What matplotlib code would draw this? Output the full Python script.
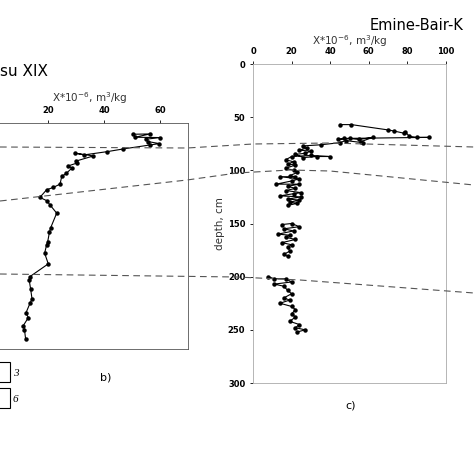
import matplotlib
matplotlib.use('Agg')
import matplotlib.pyplot as plt
from matplotlib.lines import Line2D
from matplotlib.patches import Rectangle

# panel b) susceptibility vs depth
b_x = [50.2, 56.4, 51.1, 60.0, 54.9, 55.8, 59.8, 56.6, 46.9, 41.0, 32.9, 29.5, 36.2, 29.9,
       30.2, 27.3, 28.5, 26.6, 24.9, 24.3, 21.9, 19.5, 17.1, 19.5, 20.7, 23.1, 20.9, 20.5,
       19.9, 19.5, 18.8, 20.1, 13.6, 13.3, 13.8, 14.3, 13.6, 12.1, 13.0, 11.2, 11.6, 12.0]
b_depth = [10.6, 10.3, 13.4, 13.7, 15.3, 17.5, 19.4, 20.6, 24.4, 27.0, 30.0, 28.3, 31.0, 35.9,
           37.8, 40.3, 42.5, 47.2, 50.3, 57.5, 60.6, 62.8, 70.0, 73.0, 77.0, 84.8, 98.9, 103.0,
           111.5, 114.6, 122.5, 132.5, 144.4, 148.0, 156.2, 165.6, 169.4, 178.8, 183.0, 190.5,
           194.5, 203.0]

# panel c) three depth segments
c_segments = [
    ([45, 51, 70, 73, 78, 79, 81, 85, 91, 47, 44, 50, 55, 62, 56, 57, 48, 45, 35, 26, 28, 24,
      30, 27, 22, 26, 33, 40, 30, 20, 17, 21, 18, 22, 17, 21, 23, 19, 22, 14, 24, 20, 12, 24,
      18, 22, 17, 25, 21, 14, 25, 18, 24, 19, 23, 18],
     [57, 57, 62, 63, 65, 64, 68, 69, 69, 70, 71, 70, 71, 69, 73, 74, 72, 74, 76, 77, 79, 81,
      82, 84, 85, 88, 87, 87, 86, 87, 90, 92, 94, 95, 98, 100, 102, 105, 106, 106, 108, 110,
      113, 113, 115, 117, 119, 121, 122, 124, 125, 127, 128, 130, 131, 133]),
    ([15, 20, 24, 16, 21, 13, 19, 17, 22, 15, 20, 18, 19, 16, 18],
     [151, 150, 153, 155, 157, 160, 161, 163, 165, 168, 170, 172, 176, 179, 181]),
    ([8, 11, 17, 20, 11, 16, 18, 20, 16, 19, 14, 20, 22, 20, 22, 19, 24, 22, 27, 23],
     [200, 202, 202, 205, 207, 209, 213, 216, 220, 222, 225, 228, 231, 235, 238, 242, 245,
      248, 250, 252]),
]

# boundary lines across the figure (pixel x, pixel y from top)
bounds = [
    ([0, 187, 253, 330, 474], [147, 148, 144, 143, 147]),
    ([0, 187, 237, 290, 330, 474], [201, 180, 173, 170, 171, 185]),
    ([0, 237, 300, 474], [274, 277, 280, 293]),
]

W = 474
fig = plt.figure(figsize=(4.74, 4.74), dpi=100)

def fr(x0, y0, x1, y1):
    return [x0 / W, 1 - y1 / W, (x1 - x0) / W, (y1 - y0) / W]

tick_kw = dict(labelsize=6, length=2, width=0.6)

axb = fig.add_axes(fr(-8, 123, 188, 349))
axb.plot(b_x, b_depth, '-o', color='black', lw=0.8, ms=2.2)
axb.set_xlim(0, 70)
axb.set_ylim(212.6, 0)
axb.xaxis.tick_top()
axb.xaxis.set_label_position('top')
axb.set_xticks([20, 40, 60])
axb.set_yticks([])
axb.tick_params(axis='x', **tick_kw)
for lab in axb.get_xticklabels():
    lab.set_fontweight('bold')
axb.set_xlabel('X*10$^{-6}$, m$^3$/kg', fontsize=7.5, color='#333333', labelpad=3)
for s in axb.spines.values():
    s.set_linewidth(0.6)
    s.set_color('#555555')

axc = fig.add_axes(fr(253, 64, 446, 383))
for xs, ds in c_segments:
    axc.plot(xs, ds, '-o', color='black', lw=0.8, ms=2.2)
axc.set_xlim(0, 100)
axc.set_ylim(300, 0)
axc.xaxis.tick_top()
axc.xaxis.set_label_position('top')
axc.set_xticks(range(0, 101, 20))
axc.set_yticks(range(0, 301, 50))
axc.tick_params(**tick_kw)
for lab in axc.get_xticklabels() + axc.get_yticklabels():
    lab.set_fontweight('bold')
axc.set_xlabel('X*10$^{-6}$, m$^3$/kg', fontsize=7.5, color='#333333', labelpad=2)
axc.set_ylabel('depth, cm', fontsize=7.5, color='#333333', labelpad=2)
for s in axc.spines.values():
    s.set_linewidth(0.6)
    s.set_color('#aaaaaa')

for xs, ys in bounds:
    fig.add_artist(Line2D([x / W for x in xs], [1 - y / W for y in ys],
                          color='#555555', lw=0.8, ls=(0, (6, 4))))

fig.text(370 / W, 1 - 25 / W, 'Emine-Bair-K', fontsize=10.5, va='center', ha='left')
fig.text(0, 1 - 72 / W, 'su XIX', fontsize=11, va='center', ha='left')
fig.text(100 / W, 1 - 377 / W, 'b)', fontsize=8, va='center')
fig.text(345 / W, 1 - 406 / W, 'c)', fontsize=8, va='center')
for y0, lab in [(362, '3'), (388, '6')]:
    fig.add_artist(Rectangle((-5 / W, 1 - (y0 + 20) / W), 15 / W, 20 / W,
                             fill=False, lw=0.8, transform=fig.transFigure))
    fig.text(13 / W, 1 - (y0 + 11) / W, lab, fontsize=8, style='italic',
             family='Liberation Serif', va='center')

fig.savefig('out.png', dpi=100)
